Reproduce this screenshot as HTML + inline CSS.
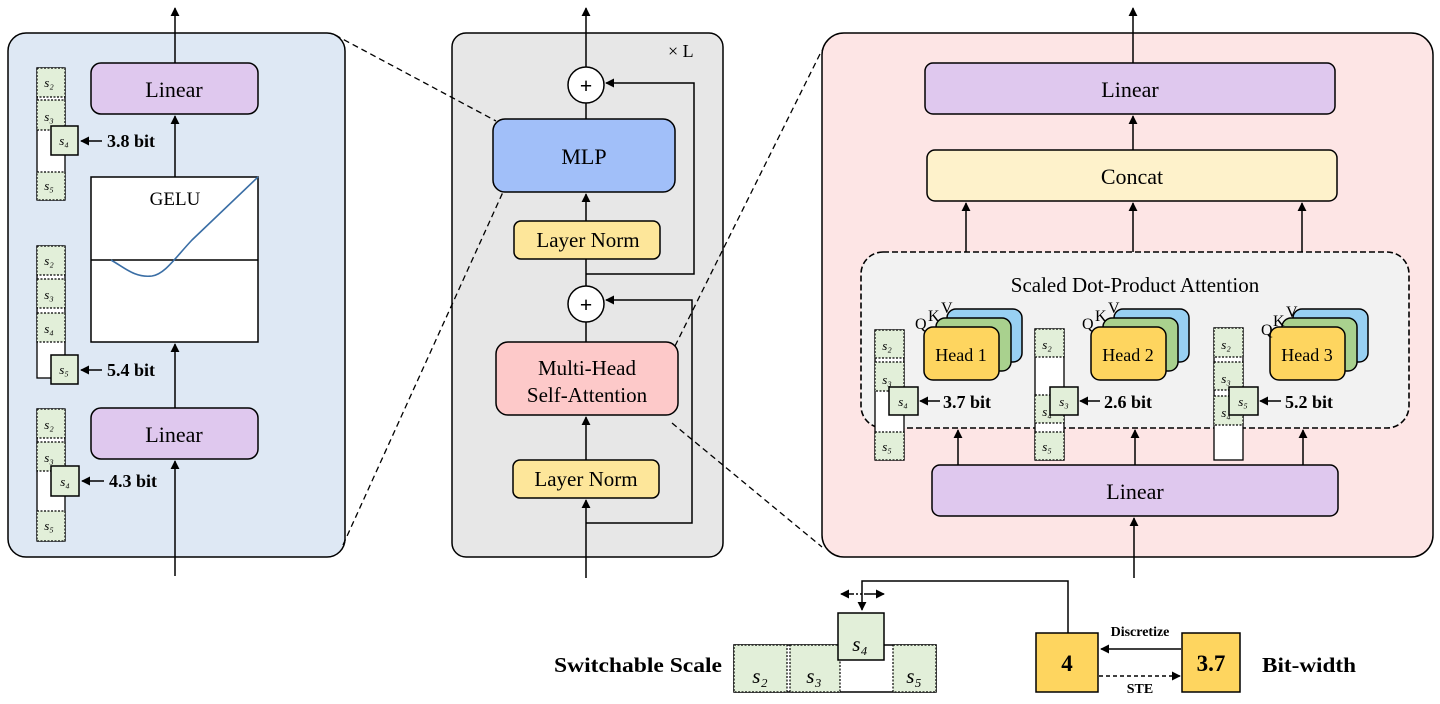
<!DOCTYPE html>
<html><head><meta charset="utf-8"><style>
html,body{margin:0;padding:0;background:#fff;}
svg{display:block;font-family:"Liberation Serif",serif;}
</style></head><body>
<svg width="1440" height="704" viewBox="0 0 1440 704" xmlns="http://www.w3.org/2000/svg">
<defs>
<marker id="ah" viewBox="0 0 10 10" refX="9" refY="5" markerWidth="6" markerHeight="6" orient="auto-start-reverse"><path d="M0,0L10,5L0,10z" fill="#000"/></marker>
</defs>
<!-- LEFT PANEL -->
<rect x="8" y="33" width="337" height="524" rx="18" fill="#dee8f4" stroke="#000" stroke-width="1.5"/>
<g stroke="#000" stroke-width="1.5" fill="none">
<line x1="175" y1="63" x2="175" y2="8" marker-end="url(#ah)"/>
<line x1="175" y1="177" x2="175" y2="116" marker-end="url(#ah)"/>
<line x1="175" y1="408" x2="175" y2="344" marker-end="url(#ah)"/>
<line x1="175" y1="576" x2="175" y2="461" marker-end="url(#ah)"/>
</g>
<rect x="91" y="63" width="167" height="51" rx="10" fill="#dfc8ee" stroke="#000" stroke-width="1.5"/>
<text x="174" y="97" font-size="22" text-anchor="middle">Linear</text>
<rect x="91" y="177" width="167" height="165" fill="#fff" stroke="#000" stroke-width="1.5"/>
<line x1="91" y1="260" x2="258" y2="260" stroke="#000" stroke-width="1.5"/>
<path d="M111,260 C125,268 135,278 152,276 C165,274 175,258 192,240 L258,177" fill="none" stroke="#3a6ea5" stroke-width="1.6"/>
<text x="175" y="205" font-size="19" text-anchor="middle">GELU</text>
<rect x="91" y="408" width="167" height="51" rx="10" fill="#dfc8ee" stroke="#000" stroke-width="1.5"/>
<text x="174" y="442" font-size="22" text-anchor="middle">Linear</text>

<g font-size="13" font-style="italic" text-anchor="middle">
<rect x="37" y="68" width="28" height="132" fill="#fff" stroke="#000" stroke-width="1.3"/>
<g fill="#e2efd9" stroke="#000" stroke-width="1.2" stroke-dasharray="2,1.5">
<rect x="37" y="68" width="28" height="29"/><rect x="37" y="100" width="28" height="30"/><rect x="37" y="172" width="28" height="28"/></g>
<text x="49" y="87">s₂</text><text x="49" y="121">s₃</text><text x="49" y="190">s₅</text>
<rect x="51" y="126" width="27" height="29" fill="#e2efd9" stroke="#000" stroke-width="1.5"/><text x="64" y="145">s₄</text>
<rect x="37" y="246" width="28" height="132" fill="#fff" stroke="#000" stroke-width="1.3"/>
<g fill="#e2efd9" stroke="#000" stroke-width="1.2" stroke-dasharray="2,1.5">
<rect x="37" y="246" width="28" height="29"/><rect x="37" y="279" width="28" height="29"/><rect x="37" y="313" width="28" height="29"/></g>
<text x="49" y="265">s₂</text><text x="49" y="299">s₃</text><text x="49" y="333">s₄</text>
<rect x="51" y="355" width="27" height="29" fill="#e2efd9" stroke="#000" stroke-width="1.5"/><text x="64" y="374">s₅</text>
<rect x="37" y="409" width="28" height="132" fill="#fff" stroke="#000" stroke-width="1.3"/>
<g fill="#e2efd9" stroke="#000" stroke-width="1.2" stroke-dasharray="2,1.5">
<rect x="37" y="409" width="28" height="29"/><rect x="37" y="442" width="28" height="29"/><rect x="37" y="511" width="28" height="30"/></g>
<text x="49" y="429">s₂</text><text x="49" y="462">s₃</text><text x="49" y="530">s₅</text>
<rect x="51" y="466" width="28" height="30" fill="#e2efd9" stroke="#000" stroke-width="1.5"/><text x="65" y="486">s₄</text>
</g>
<g stroke="#000" stroke-width="1.5"><line x1="102" y1="141" x2="81" y2="141" marker-end="url(#ah)"/><line x1="102" y1="370" x2="81" y2="370" marker-end="url(#ah)"/><line x1="104" y1="481" x2="82" y2="481" marker-end="url(#ah)"/></g>
<g font-size="18" font-weight="bold"><text x="107" y="147">3.8 bit</text><text x="107" y="376">5.4 bit</text><text x="109" y="487">4.3 bit</text></g>

<!-- MIDDLE PANEL -->
<rect x="452" y="33" width="271" height="524" rx="14" fill="#e7e7e7" stroke="#000" stroke-width="1.5"/>
<text x="668" y="57" font-size="18">× L</text>
<g stroke="#000" stroke-width="1.5" fill="none">
<line x1="586" y1="67" x2="586" y2="8" marker-end="url(#ah)"/>
<line x1="586" y1="119" x2="586" y2="103"/>
<line x1="586" y1="221" x2="586" y2="194" marker-end="url(#ah)"/>
<line x1="586" y1="286" x2="586" y2="259"/>
<polyline points="586,274 694,274 694,83 606,83" marker-end="url(#ah)"/>
<line x1="586" y1="342" x2="586" y2="322"/>
<line x1="586" y1="460" x2="586" y2="417" marker-end="url(#ah)"/>
<line x1="586" y1="578" x2="586" y2="500" marker-end="url(#ah)"/>
<polyline points="586,523 692,523 692,300 606,300" marker-end="url(#ah)"/>
</g>
<circle cx="586" cy="85" r="18" fill="#fff" stroke="#000" stroke-width="1.5"/>
<text x="586" y="93" font-size="22" text-anchor="middle" font-weight="bold">+</text>
<circle cx="586" cy="304" r="18" fill="#fff" stroke="#000" stroke-width="1.5"/>
<text x="586" y="312" font-size="22" text-anchor="middle" font-weight="bold">+</text>
<rect x="493" y="119" width="182" height="73" rx="12" fill="#a1bff9" stroke="#000" stroke-width="1.5"/>
<text x="584" y="164" font-size="22" text-anchor="middle">MLP</text>
<rect x="514" y="221" width="146" height="38" rx="7" fill="#fde69a" stroke="#000" stroke-width="1.5"/>
<text x="588" y="247" font-size="21" text-anchor="middle">Layer Norm</text>
<rect x="496" y="342" width="182" height="73" rx="12" fill="#fdc9c9" stroke="#000" stroke-width="1.5"/>
<text x="587" y="375" font-size="21" text-anchor="middle">Multi-Head</text>
<text x="587" y="402" font-size="21" text-anchor="middle">Self-Attention</text>
<rect x="513" y="460" width="146" height="38" rx="7" fill="#fde69a" stroke="#000" stroke-width="1.5"/>
<text x="586" y="486" font-size="21" text-anchor="middle">Layer Norm</text>

<!-- RIGHT PANEL -->
<rect x="822" y="33" width="611" height="524" rx="22" fill="#fde5e5" stroke="#000" stroke-width="1.5"/>
<g stroke="#000" stroke-width="1.5" fill="none">
<line x1="1133" y1="63" x2="1133" y2="8" marker-end="url(#ah)"/>
<line x1="1133" y1="150" x2="1133" y2="116" marker-end="url(#ah)"/>
<line x1="966" y1="252" x2="966" y2="203" marker-end="url(#ah)"/>
<line x1="1133" y1="252" x2="1133" y2="203" marker-end="url(#ah)"/>
<line x1="1302" y1="252" x2="1302" y2="203" marker-end="url(#ah)"/>
<line x1="958" y1="465" x2="958" y2="430" marker-end="url(#ah)"/>
<line x1="1135" y1="465" x2="1135" y2="430" marker-end="url(#ah)"/>
<line x1="1303" y1="465" x2="1303" y2="430" marker-end="url(#ah)"/>
<line x1="1134" y1="578" x2="1134" y2="518" marker-end="url(#ah)"/>
</g>
<rect x="925" y="63" width="410" height="51" rx="8" fill="#dfc8ee" stroke="#000" stroke-width="1.5"/>
<text x="1130" y="97" font-size="22" text-anchor="middle">Linear</text>
<rect x="927" y="150" width="410" height="51" rx="8" fill="#fef2cb" stroke="#000" stroke-width="1.5"/>
<text x="1132" y="184" font-size="22" text-anchor="middle">Concat</text>
<rect x="861" y="252" width="548" height="176" rx="22" fill="#f2f2f2" stroke="#000" stroke-width="1.6" stroke-dasharray="6,3"/>
<text x="1135" y="292" font-size="21" text-anchor="middle">Scaled Dot-Product Attention</text>
<g stroke="#000" stroke-width="1.5">
<rect x="947" y="309" width="75" height="53" rx="9" fill="#98d0f2"/>
<rect x="936" y="318" width="75" height="53" rx="9" fill="#a9d18e"/>
<rect x="924" y="327" width="75" height="53" rx="9" fill="#fed55f"/>
<rect x="1114" y="309" width="75" height="53" rx="9" fill="#98d0f2"/>
<rect x="1103" y="318" width="75" height="53" rx="9" fill="#a9d18e"/>
<rect x="1091" y="327" width="75" height="53" rx="9" fill="#fed55f"/>
<rect x="1293" y="309" width="75" height="53" rx="9" fill="#98d0f2"/>
<rect x="1282" y="318" width="75" height="53" rx="9" fill="#a9d18e"/>
<rect x="1270" y="327" width="75" height="53" rx="9" fill="#fed55f"/>
</g>
<g font-size="18" text-anchor="middle"><text x="961" y="361">Head 1</text><text x="1128" y="361">Head 2</text><text x="1307" y="361">Head 3</text></g>
<g font-size="16"><text x="915" y="329">Q</text><text x="928" y="321">K</text><text x="941" y="313">V</text>
<text x="1082" y="329">Q</text><text x="1095" y="321">K</text><text x="1108" y="313">V</text>
<text x="1261" y="335">Q</text><text x="1273" y="326">K</text><text x="1286" y="317">V</text></g>

<g font-size="13" font-style="italic" text-anchor="middle">
<rect x="875" y="330" width="29" height="130" fill="#fff" stroke="#000" stroke-width="1.3"/>
<g fill="#e2efd9" stroke="#000" stroke-width="1.2" stroke-dasharray="2,1.5">
<rect x="875" y="330" width="29" height="28"/><rect x="875" y="362" width="29" height="29"/><rect x="875" y="432" width="29" height="28"/></g>
<text x="887" y="350">s₂</text><text x="887" y="384">s₃</text><text x="887" y="451">s₅</text>
<rect x="889" y="387" width="29" height="28" fill="#e2efd9" stroke="#000" stroke-width="1.5"/><text x="903" y="406">s₄</text>
<rect x="1035" y="329" width="29" height="131" fill="#fff" stroke="#000" stroke-width="1.3"/>
<g fill="#e2efd9" stroke="#000" stroke-width="1.2" stroke-dasharray="2,1.5">
<rect x="1035" y="329" width="29" height="28"/><rect x="1035" y="395" width="29" height="28"/><rect x="1035" y="432" width="29" height="28"/></g>
<text x="1047" y="349">s₂</text><text x="1047" y="416">s₄</text><text x="1047" y="451">s₅</text>
<rect x="1050" y="387" width="28" height="28" fill="#e2efd9" stroke="#000" stroke-width="1.5"/><text x="1064" y="406">s₃</text>
<rect x="1214" y="328" width="29" height="132" fill="#fff" stroke="#000" stroke-width="1.3"/>
<g fill="#e2efd9" stroke="#000" stroke-width="1.2" stroke-dasharray="2,1.5">
<rect x="1214" y="328" width="29" height="29"/><rect x="1214" y="362" width="29" height="28"/><rect x="1214" y="396" width="29" height="29"/></g>
<text x="1226" y="349">s₂</text><text x="1226" y="383">s₃</text><text x="1226" y="417">s₄</text>
<rect x="1229" y="387" width="29" height="28" fill="#e2efd9" stroke="#000" stroke-width="1.5"/><text x="1243" y="406">s₅</text>
</g>
<g stroke="#000" stroke-width="1.5"><line x1="940" y1="401" x2="920" y2="401" marker-end="url(#ah)"/><line x1="1100" y1="401" x2="1080" y2="401" marker-end="url(#ah)"/><line x1="1281" y1="401" x2="1260" y2="401" marker-end="url(#ah)"/></g>
<g font-size="18" font-weight="bold"><text x="943" y="408">3.7 bit</text><text x="1104" y="408">2.6 bit</text><text x="1285" y="408">5.2 bit</text></g>
<rect x="932" y="465" width="406" height="51" rx="8" fill="#dfc8ee" stroke="#000" stroke-width="1.5"/>
<text x="1135" y="499" font-size="22" text-anchor="middle">Linear</text>

<!-- dashed zoom connectors (on top) -->
<g stroke="#000" stroke-width="1.3" stroke-dasharray="6,4" fill="none">
<line x1="335" y1="35" x2="496" y2="121"/>
<line x1="343" y1="545" x2="503" y2="192"/>
<line x1="675" y1="346" x2="822" y2="50"/>
<line x1="672" y1="423" x2="822" y2="547"/>
</g>

<!-- BOTTOM -->
<g stroke="#000" stroke-width="1.5" fill="none">
<polyline points="1068,633 1068,581 862,581 862,610" marker-end="url(#ah)"/>
<line x1="852" y1="594" x2="841" y2="594" marker-end="url(#ah)"/>
<line x1="866" y1="594" x2="884" y2="594" marker-end="url(#ah)"/>
<line x1="852" y1="594" x2="866" y2="594" stroke-dasharray="2,2"/>
<line x1="1181" y1="649" x2="1101" y2="649" marker-end="url(#ah)"/>
<line x1="1099" y1="676" x2="1180" y2="676" stroke-dasharray="4,3" marker-end="url(#ah)"/>
</g>
<rect x="734" y="645" width="202" height="47" fill="#fff" stroke="#000" stroke-width="1.5"/>
<g fill="#e2efd9" stroke="#000" stroke-width="1.2" stroke-dasharray="2,1.5">
<rect x="734" y="645" width="53" height="47"/><rect x="790" y="645" width="50" height="47"/><rect x="893" y="645" width="43" height="47"/></g>
<rect x="838" y="613" width="46" height="47" fill="#e2efd9" stroke="#000" stroke-width="1.5"/>
<g font-size="21" font-style="italic" text-anchor="middle"><text x="760" y="683">s₂</text><text x="814" y="683">s₃</text><text x="860" y="651">s₄</text><text x="914" y="683">s₅</text></g>
<text x="722" y="672" font-size="21" font-weight="bold" text-anchor="end" textLength="168" lengthAdjust="spacingAndGlyphs">Switchable Scale</text>
<rect x="1036" y="633" width="62" height="59" fill="#fed55f" stroke="#000" stroke-width="1.5"/>
<text x="1067" y="671" font-size="23" font-weight="bold" text-anchor="middle">4</text>
<rect x="1182" y="633" width="58" height="59" fill="#fed55f" stroke="#000" stroke-width="1.5"/>
<text x="1211" y="671" font-size="23" font-weight="bold" text-anchor="middle">3.7</text>
<text x="1140" y="636" font-size="14" font-weight="bold" text-anchor="middle">Discretize</text>
<text x="1140" y="693" font-size="14" font-weight="bold" text-anchor="middle">STE</text>
<text x="1262" y="672" font-size="21" font-weight="bold" textLength="94" lengthAdjust="spacingAndGlyphs">Bit-width</text>
</svg>
</body></html>
